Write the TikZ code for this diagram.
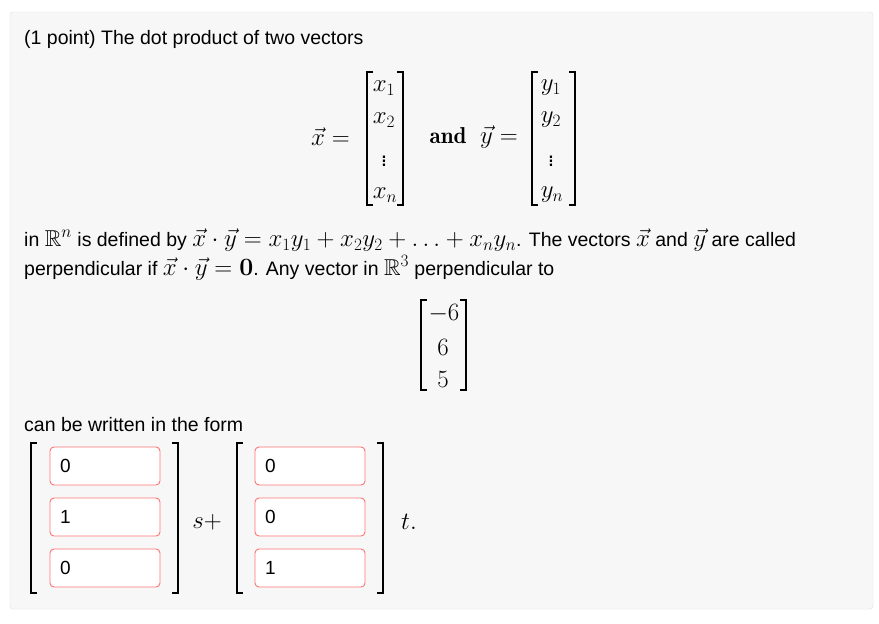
\documentclass[tikz,border=0pt]{standalone}
\usepackage{amsmath,amssymb}
\usepackage[no-math]{fontspec}
\setmainfont{Liberation Sans}
\newcommand\bm[1]{{\fontsize{23}{24}\selectfont$#1$}}
\begin{document}
\begin{tikzpicture}[x=1pt,y=-1pt,
  txt/.style={anchor=west,inner sep=0pt,font=\fontsize{19.5}{23}\selectfont},
  ent/.style={inner sep=0pt,font=\fontsize{23}{26}\selectfont},
  ansbox/.style={draw=red!55!white,fill=white,rounded corners=4pt,line width=0.9pt,minimum width=110pt,minimum height=38pt,inner sep=0pt},
  anstxt/.style={anchor=west,inner sep=0pt,font=\fontsize{19}{23}\selectfont},
  brk/.style={line width=1.4pt}]
\useasboundingbox (0,0) rectangle (879,624);
\fill[white] (0,0) rectangle (879,624);
\draw[draw=black!12,fill=black!3,rounded corners=3pt] (10,12) rectangle (873,609);
\newcommand\lbrk[3]{\draw[brk] (#1+6,#2) -- (#1,#2) -- (#1,#3) -- (#1+6,#3);}
\newcommand\rbrk[3]{\draw[brk] (#1-6,#2) -- (#1,#2) -- (#1,#3) -- (#1-6,#3);}
\node[txt] (t1) at (24,39) {(1 point) The dot product of two vectors};
% x vector
\node[ent,anchor=east] (xeq) at (350,137) {$\vec{x}=$};
\lbrk{367}{72}{205}\rbrk{403}{72}{205}
\node[ent] (x1) at (384,88) {$x_1$};
\node[ent] (x2) at (384,120) {$x_2$};
\node[ent] (xd) at (384,158) {$\vdots$};
\node[ent] (xn) at (385,195) {$x_n$};
\node[ent,anchor=east] (yeq) at (518,137) {$\text{\fontfamily{lmr}\selectfont\bfseries and}\;\;\vec{y}=$};
\lbrk{532}{72}{205}\rbrk{575}{72}{205}
\node[ent] (y1) at (551,88) {$y_1$};
\node[ent] (y2) at (551,120) {$y_2$};
\node[ent] (yd) at (551,158) {$\vdots$};
\node[ent] (yn) at (552,195) {$y_n$};
\node[txt] (t2) at (24,240) {in \bm{\mathbb{R}^n} is defined by \bm{\vec{x}\cdot\vec{y}=x_1y_1+x_2y_2+\ldots+x_ny_n}. The vectors \bm{\vec{x}} and \bm{\vec{y}} are called};
\node[txt] (t3) at (24,268) {perpendicular if \bm{\vec{x}\cdot\vec{y}=\mathbf{0}}. Any vector in \bm{\mathbb{R}^3} perpendicular to};
\lbrk{421}{300}{390}\rbrk{466}{300}{390}
\node[ent] (v1) at (444,314) {$-6$};
\node[ent] (v2) at (443,347) {$6$};
\node[ent] (v3) at (443,379) {$5$};
\node[txt] (t4) at (24,425) {can be written in the form};
% answer columns
\lbrk{31}{443}{593}\rbrk{178}{443}{593}
\lbrk{237}{443}{593}\rbrk{383}{443}{593}
\node[ansbox] (a1) at (105,466) {};
\node[ansbox] (a2) at (105,517) {};
\node[ansbox] (a3) at (105,568) {};
\node[ansbox] (b1) at (310,466) {};
\node[ansbox] (b2) at (310,517) {};
\node[ansbox] (b3) at (310,568) {};
\node[anstxt] at (60,466) {0};
\node[anstxt] at (60,517) {1};
\node[anstxt] at (60,568) {0};
\node[anstxt] at (265,466) {0};
\node[anstxt] at (265,517) {0};
\node[anstxt] at (265,568) {1};
\node[ent] (s) at (207,522) {$s+$};
\node[ent] (t) at (409,522) {$t.$};
\end{tikzpicture}
\end{document}
